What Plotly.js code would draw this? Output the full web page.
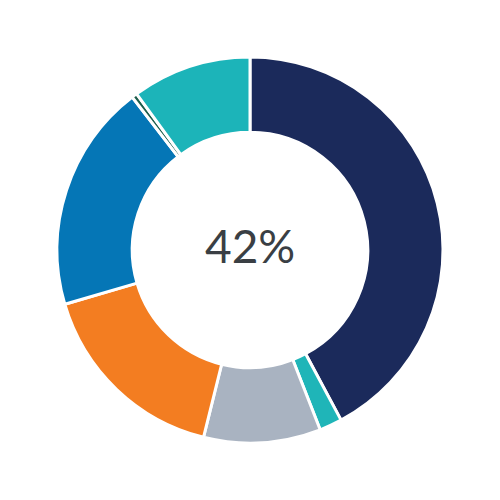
<!DOCTYPE html>
<html>
<head>
<meta charset="utf-8">
<script src="https://cdn.plot.ly/plotly-3.0.1.min.js"></script>
<style>
  html, body { margin: 0; padding: 0; background: #fff; }
  #myDiv { width: 500px; height: 500px; }
</style>
</head>
<body>
<div id="myDiv"></div>
<script>
// slices, clockwise from 12 o'clock
var labels = ['A', 'B', 'C', 'D', 'E', 'F', 'G'];
var values = [42.2, 1.9, 9.8, 16.6, 19.1, 0.45, 10.0];
var colors = ['#1b2a5b', '#1fb5b8', '#a9b3c1', '#f37d21', '#0576b6', '#1d5e4c', '#1cb4b9'];
var centerText = '42%';

var trace = {
  type: 'pie',
  labels: labels,
  values: values,
  hole: 0.61,
  sort: false,
  direction: 'clockwise',
  rotation: 0,
  textinfo: 'none',
  hoverinfo: 'label+percent',
  marker: {
    colors: colors,
    line: { color: '#ffffff', width: 3 }
  }
};

var layout = {
  width: 500,
  height: 500,
  showlegend: false,
  margin: { l: 57, r: 57, t: 57, b: 57, pad: 0 },
  paper_bgcolor: '#ffffff',
  annotations: [{
    text: centerText,
    x: 0.5, y: 0.5,
    xref: 'paper', yref: 'paper',
    yshift: 5,
    showarrow: false,
    font: { family: 'Lato, sans-serif', size: 46, color: '#3a3f44' }
  }]
};

Plotly.newPlot('myDiv', [trace], layout, { displayModeBar: false });
</script>
</body>
</html>
